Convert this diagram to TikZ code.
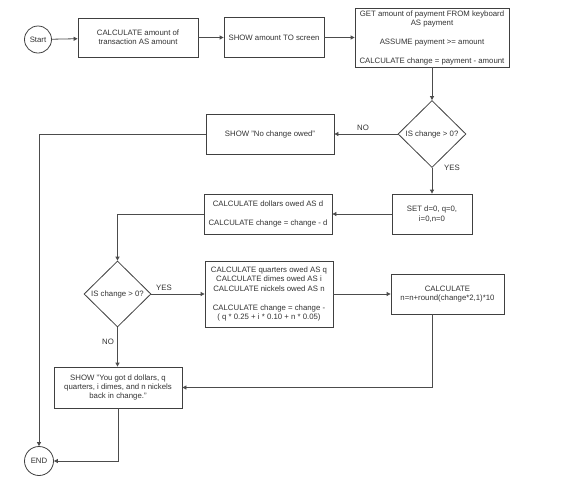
\documentclass[tikz,border=0pt]{standalone}
\usepackage{fontspec}
\setmainfont{Liberation Sans}
\usetikzlibrary{shapes.geometric,arrows.meta}
\begin{document}
\begin{tikzpicture}[x=1pt,y=-1pt,
  every node/.style={font=\fontsize{7.8}{9.4}\selectfont, text=black!80},
  box/.style={draw=black!75, line width=0.8pt, align=center, inner sep=1pt},
  dia/.style={draw=black!75, line width=0.8pt, diamond, inner sep=0pt, aspect=1},
  term/.style={draw=black!75, line width=0.8pt, circle, inner sep=0pt},
  conn/.style={draw=black!70, line width=0.8pt},
  arr/.style={conn, -{Triangle[length=4pt,width=4pt]}},
  lbl/.style={inner sep=0pt}]
\useasboundingbox[fill=white] (0,0) rectangle (587,483);

\node[term, minimum size=27pt] (start) at (38,39.5) {Start};
\node[box, minimum width=120pt, minimum height=39pt] (b1) at (138,37.5) {CALCULATE amount of\\transaction AS amount};
\node[box, minimum width=100pt, minimum height=40pt] (b2) at (274,37.5) {SHOW amount TO screen};
\node[box, minimum width=154pt, minimum height=59pt] (b3) at (432,37.5) {GET amount of payment FROM keyboard\\AS payment\\[9.4pt]ASSUME payment >= amount\\[9.4pt]CALCULATE change = payment - amount};
\node[dia, minimum width=68pt, minimum height=67pt] (d1) at (432,134) {IS change > 0?};
\node[box, minimum width=128pt, minimum height=40pt] (b4) at (270,134) {SHOW "No change owed"};
\node[box, minimum width=80pt, minimum height=40pt] (set) at (432,214) {SET d=0, q=0,\\i=0,n=0};
\node[box, minimum width=128pt, minimum height=40pt] (b5) at (268,214) {CALCULATE dollars owed AS d\\[9.4pt]CALCULATE change = change - d};
\node[dia, minimum width=67pt, minimum height=66pt] (d2) at (117.5,294) {IS change > 0?};
\node[box, minimum width=128pt, minimum height=66pt] (b6) at (269,294) {CALCULATE quarters owed AS q\\CALCULATE dimes owed AS i\\CALCULATE nickels owed AS n\\[9.4pt]CALCULATE change = change -\\( q * 0.25 + i * 0.10 + n * 0.05)};
\node[box, minimum width=113pt, minimum height=40pt] (b7) at (447.5,294) {CALCULATE\\n=n+round(change*2,1)*10};
\node[box, minimum width=128pt, minimum height=41pt] (b8) at (118,387.5) {SHOW "You got d dollars, q\\quarters, i dimes, and n nickels\\back in change."};
\node[term, minimum size=29pt] (end) at (39,461) {END};

\draw[arr] (start) -- (b1);
\draw[arr] (b1) -- (b2);
\draw[arr] (b2) -- (b3);
\draw[arr] (b3) -- (d1);
\draw[arr] (d1) -- (b4);
\draw[arr] (d1) -- (set);
\draw[arr] (set) -- (b5);
\draw[arr] (b4.west) -| (end.north);
\draw[arr] (b5.west) -| (d2.north);
\draw[arr] (d2) -- (b6);
\draw[arr] (b6) -- (b7);
\draw[arr] (d2.south) -- (d2.south |- b8.north);
\draw[arr] (b7.south -| set.center) |- (b8.east);
\draw[arr] (b8.south) |- (end.east);

\node[lbl] (no1) at (363,128) {NO};
\node[lbl] (yes1) at (452,168) {YES};
\node[lbl] (yes2) at (164,288) {YES};
\node[lbl] (no2) at (108,342) {NO};
\end{tikzpicture}
\end{document}
